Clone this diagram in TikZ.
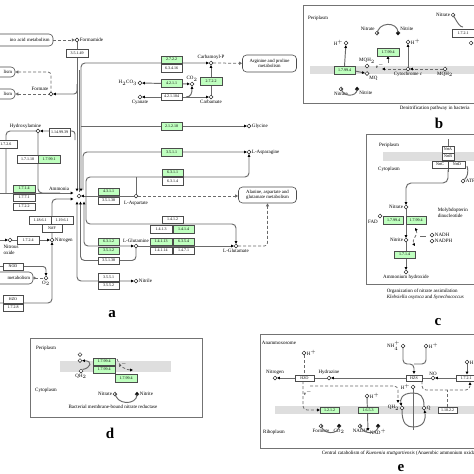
\documentclass[tikz,border=0pt]{standalone}
\usepackage{fontspec}
\setmainfont{Liberation Serif}
\usetikzlibrary{arrows.meta}
\definecolor{kgreen}{HTML}{BFFFBF}
\definecolor{lgray}{HTML}{6A6A6A}
\tikzset{
  ec/.style={draw=black!70, fill=white, line width=0.4pt, inner sep=0pt, minimum width=21.5pt, minimum height=7.5pt, font=\fontsize{4}{4}\selectfont},
  ecg/.style={ec, fill=kgreen},
  cpd/.style={circle, draw=black!85, fill=white, line width=0.5pt, inner sep=0pt, minimum size=3.8pt},
  lbl/.style={font=\fontsize{5}{5.5}\selectfont, inner sep=0.6pt},
  map/.style={draw=black!70, fill=white, rounded corners=4pt, line width=0.6pt, inner sep=1pt, align=center, font=\fontsize{4.8}{5.2}\selectfont},
  rx/.style={draw=lgray, line width=0.95pt},
  dsh/.style={draw=lgray, line width=0.75pt, dash pattern=on 3pt off 2pt},
  arr/.style={-{Triangle[length=2.8pt,width=2.6pt,color=black]}},
  dbl/.style={{Triangle[length=2.8pt,width=2.6pt,color=black]}-{Triangle[length=2.8pt,width=2.6pt,color=black]}},
  oarr/.style={-{Triangle[open,length=3pt,width=3pt]}},
  panel/.style={draw=black!55, line width=0.7pt},
  mem/.style={fill=black!13},
  letter/.style={font=\fontsize{15}{15}\selectfont\bfseries}
}
\begin{document}
\begin{tikzpicture}[x=1pt,y=-1pt]
\useasboundingbox (0,0) rectangle (474,474);
\clip (0,0) rectangle (474,474);
\fill[white] (0,0) rectangle (474,474);

% ---------- a: compounds
\node[cpd,label={[lbl]right:Formamide}] (formamide) at (77,40) {};
\node[cpd] (formate) at (51,94) {};
\node[lbl] at (40,88.5) {Formate};
\node[cpd,label={[lbl]left:H$_2$CO$_3$}] (hco) at (140,83) {};
\node[cpd,label={[lbl]below:Cyanate}] (cyanate) at (140,97) {};
\node[cpd,label={[lbl]above:CO$_2$}] (co2a) at (192,84) {};
\node[cpd,label={[lbl]below:Carbamate}] (carbamate) at (211,97) {};
\node[cpd,label={[lbl]above:Carbamoyl-P}] (carbp) at (211,63) {};
\node[cpd,label={[lbl]right:Glycine}] (gly) at (249,126) {};
\node[cpd,label={[lbl]right:L-Asparagine}] (asn) at (249,152) {};
\node[cpd] (hydroxyl) at (38,131) {};
\node[lbl] at (25.5,126) {Hydroxylamine};
\node[cpd] (ammonia) at (79,196) {};
\node[lbl] at (59,188.5) {Ammonia};
\node[cpd] (asp) at (136,196) {};
\node[lbl] at (136,203) {L-Aspartate};
\node[cpd] (gln) at (136,246) {};
\node[lbl] at (136,240.5) {L-Glutamine};
\node[cpd,label={[lbl]below:L-Glutamate}] (glu) at (236,246) {};
\node[cpd,label={[lbl]right:Nitrile}] (nitrile) at (136,281) {};
\node[cpd] (nno) at (10,240) {};
\node[lbl,align=left] at (11,250) {Nitrous\\oxide};
\node[cpd,label={[lbl]right:Nitrogen}] (nn) at (52,240) {};
\node[cpd,label={[lbl]below:O$_2$}] (oo) at (46,278) {};

% maps
\node[map,minimum width=63pt,minimum height=12pt,text width=56pt,align=right] (aamap) at (21.5,40) {ino acid metabolism};
\node[map,minimum width=26pt,minimum height=10pt,text width=20pt,align=right] (mapb) at (2,72) {lism};
\node[map,minimum width=26pt,minimum height=10pt,text width=20pt,align=right] (mapc) at (2,94) {lism};
\node[map,minimum width=54pt,minimum height=17pt] (argmap) at (269.5,63.5) {Arginine and proline\\metabolism};
\node[map,minimum width=58pt,minimum height=16pt] (alamap) at (267.5,195) {Alanine, aspartate and\\glutamate metabolism};
\node[map,minimum width=44pt,minimum height=12pt,text width=38pt,align=right] (mapd) at (11,278) {metabolism};

% a: reactions
\draw[rx,arr] (formamide) -- (77,191.5);
\draw[rx] (79,191.5) -- (79,70);
\draw[rx,dbl,rounded corners=4pt] (81,191.5) |- (carbp);
\draw[rx,arr,rounded corners=3pt] (77,84) |- (formate);
\draw[rx,arr] (81,126) -- (gly);
\draw[rx,arr,rounded corners=4pt] (83,190) |- (asn);
\draw[rx,arr,rounded corners=3pt] (75,140) |- (hydroxyl);
\draw[rx,dbl,rounded corners=4pt] (asn) |- (86,177) -- (86,224) -| (glu);
\draw[rx] (asp) -- (136,177);
\draw[rx,arr] (asp) -- (ammonia);
\draw[dsh,oarr] (asp.east) -- (asp -| alamap.west);
\draw[dsh,oarr,rounded corners=3pt] (glu) -| (alamap.south);
\draw[rx,dbl,rounded corners=4pt] (84,201.5) |- (gln);
\draw[rx,arr] (gln) -- (glu);
\draw[rx,arr,rounded corners=4pt] (gln) |- (80.5,260.5) -- (80.5,201.5);
\draw[rx,dbl,rounded corners=4pt] (77,201.5) |- (nitrile);
\draw[rx,rounded corners=4pt] (hydroxyl) |- (60,193);
\draw[rx,rounded corners=4pt] (hydroxyl) -| (6,193);
\draw[rx,arr] (0,193) -- (73.5,193);
\draw[rx,arr] (0,240) -- (nno);
\draw[rx,arr] (nno) -- (nn);
\draw[rx,arr,rounded corners=4pt] (nn) |- (73.5,199);
\draw[rx,arr,rounded corners=4pt] (0,303) -| (nn);
\draw[rx,arr,rounded corners=3pt] (0,266.5) -| (oo);
\draw[dsh,{Circle[open,length=2.5pt]}-] (mapd.east) -- (oo);
\draw[dsh,oarr] (aamap.east) -- (formamide);
\draw[dsh,{Triangle[open,length=3pt,width=3pt]}-,rounded corners=3pt] (mapb.east) -| (formate);
\draw[dsh,{Triangle[open,length=3pt,width=3pt]}-] (mapc.east) -- (formate);
\draw[dsh,oarr] (carbp) -- (argmap);
\draw[rx,dbl] (hco) -- (co2a);
\draw[rx,dbl] (cyanate) -- (carbamate);
\draw[rx,arr] (186,97) .. controls (191,97) and (192,93) .. (co2a);
\draw[rx,arr] (carbamate) -- (carbp);

% a: enzymes
\node[ec] at (77,53) {3.5.1.49};
\node[ecg] at (171.5,59.5) {2.7.2.2};
\node[ec] at (171.5,68) {6.3.4.16};
\node[ecg] at (171.5,83) {4.2.1.1};
\node[ec] at (171.5,96.5) {4.2.1.104};
\node[ecg] at (211,81) {2.7.2.2};
\node[ecg] at (171.5,126) {2.1.2.10};
\node[ecg] at (171.5,152) {3.5.1.1};
\node[ecg] at (172.5,172.5) {6.3.1.1};
\node[ec] at (172.5,181) {6.3.1.4};
\node[ec] at (59.5,132) {1.14.99.39};
\node[ec] at (6,144) {1.7.2.6};
\node[ec] at (27.5,159) {1.7.1.10};
\node[ecg] at (49,159) {1.7.99.1};
\node[ecg] at (24,188.5) {1.7.1.4};
\node[ec] at (24,197.5) {1.7.7.1};
\node[ec] at (24,206.5) {1.7.2.2};
\node[ecg] at (108.5,191.5) {4.3.1.1};
\node[ec] at (108.5,200.5) {3.5.1.38};
\node[ec] at (40,220) {1.18.6.1};
\node[ec] at (62,220) {1.19.6.1};
\node[ec,minimum width=20pt] at (52,228) {NifF};
\node[ec] at (28,240) {1.7.2.4};
\node[ec] at (172.5,219.5) {1.4.1.2};
\node[ec] at (161,229) {1.4.1.3};
\node[ecg] at (183.5,229) {1.4.1.4};
\node[ecg] at (108.5,241.5) {6.3.1.2};
\node[ecg] at (108.5,250.5) {3.5.1.2};
\node[ecg] at (161,241.5) {1.4.1.13};
\node[ecg] at (183.5,241.5) {6.3.5.4};
\node[ec] at (161,250.5) {1.4.1.14};
\node[ec] at (183.5,250.5) {1.4.7.1};
\node[ec] at (108.5,260.5) {3.5.1.38};
\node[ec] at (108.5,277) {3.5.5.1};
\node[ec] at (108.5,285.5) {3.5.5.2};
\node[ec,minimum width=20pt] at (13,266.5) {NOD};
\node[ec,minimum width=20pt] at (13,299) {HZO};
\node[ec,minimum width=20pt] at (13,307.5) {1.7.2.8};
\node[letter] at (112,314) {a};

% ---------- b
\draw[panel] (303,5) rectangle (480,103);
\fill[mem] (310,66) rectangle (480,74);
\node[lbl] at (318,18) {Periplasm};
\node[cpd,label={[lbl]left:H$^+$}] (hpb1) at (346,43) {};
\node[cpd,label={[lbl]above:MQH$_2$}] (mqhb) at (367,66) {};
\node[cpd,label={[lbl]below right:MQ}] (mqb) at (367,73.5) {};
\node[cpd,label={[lbl]below:Nitrate}] (nab1) at (341,89) {};
\node[cpd,label={[lbl]below right:Nitrite}] (nib1) at (357,89) {};
\node[cpd,label={[lbl]above left:Nitrate}] (nab2) at (377,33) {};
\node[cpd,label={[lbl]above right:Nitrite}] (nib2) at (398,33) {};
\node[cpd,label={[lbl]right:H$^+$}] (hpb2) at (408,42) {};
\node[cpd,label={[lbl]below:Cytochrome \textit{c}}] (cytc) at (408,69) {};
\node[cpd,label={[lbl]below:MQH$_2$}] (mqhb2) at (445,69) {};
\node[cpd,label={[lbl]left:Nitrate}] (nab3) at (453,15) {};
\node[cpd] (nob) at (471,43) {};
\draw[rx,arr] (344.5,66) -- (hpb1);
\draw[rx,arr] (355,71) -- (mqb);
\draw[rx,arr] (nab1.north) to[out=-90,in=-90,looseness=1.7] (nib1.north);
\draw[rx,arr] (nab2.south) to[out=90,in=90,looseness=1.7] (nib2.south);
\draw[dsh,arr] (mqhb2) -- (cytc);
\draw[dsh,arr] (cytc) -- (382,69);
\draw[rx,arr] (388,63) -- (388,56);
\draw[rx,arr] (cytc) -- (hpb2);
\draw[rx] (nab3.south) to[out=90,in=180] (463,27);
\node[ecg] at (344.5,70) {1.7.99.4};
\node[ecg] at (388,52) {1.7.99.4};
\node[ec] at (463,33) {1.7.2.1};
\node[lbl] at (380,66) {e$^-$};
\node[lbl,anchor=west] at (399,108) {Denitrification pathway in bacteria};
\node[letter] at (439,123) {b};

% ---------- c
\draw[panel] (366,134) rectangle (480,284);
\fill[mem] (383,152) rectangle (480,161);
\node[lbl] at (389,145) {Periplasm};
\node[lbl] at (389,169) {Cytoplasm};
\node[cpd,label={[lbl]left:Nitrate}] (nac) at (406,207) {};
\node[cpd] (fad) at (380,216) {};
\node[lbl] at (373,222) {FAD};
\node[cpd,label={[lbl]left:Nitrite}] (nic) at (406,240) {};
\node[cpd,label={[lbl]below:Ammonium hydroxide}] (nhoh) at (406,272) {};
\node[cpd,label={[lbl]right:NADH}] (nadhc) at (432,235) {};
\node[cpd,label={[lbl]right:NADPH}] (nadphc) at (432,241) {};
\node[cpd,label={[lbl]right:ATP}] (atp) at (463,181) {};
\draw[rx] (448,139) -- (448,172);
\draw[rx,arr,rounded corners=5pt] (448,170) |- (406,183) -- (nac);
\draw[rx] (467,166) .. controls (469,173) and (467,177) .. (atp);
\draw[rx,arr] (nac) -- (nic);
\draw[rx,arr] (nic) -- (nhoh);
\draw[dsh,dbl] (415,228) .. controls (419,234) and (411,240) .. (415,246);
\draw[rx,line width=0.5pt] (420,236.5) -- (426,236.5);
\node[ec,minimum width=12pt] at (448,149.5) {NrtA};
\node[ec,minimum width=12pt] at (448,156.5) {NrtB};
\node[ec,minimum width=16pt] at (440,164.5) {NrtC};
\node[ec,minimum width=17pt] at (457,164.5) {NrtD};
\node[ecg,minimum width=20pt] at (393.5,220) {1.7.99.4};
\node[ecg,minimum width=20pt] at (416,220) {1.7.99.4};
\node[ecg] at (404.5,254.5) {1.7.1.4};
\node[lbl,align=left,anchor=west] at (437,213) {Molybdopterin\\dinucleotide};
\node[lbl,align=left,anchor=west] at (386,294.5) {Organization of nitrate assimilation\\\textit{Klebsiella oxytoca} and \textit{Synechococcus}};
\node[letter] at (438,322) {c};

% ---------- d
\draw[panel] (30,338) rectangle (202,417);
\fill[mem] (60,361) rectangle (171,372);
\node[lbl] at (46,348) {Periplasm};
\node[lbl] at (46,390) {Cytoplasm};
\node[cpd] (qd1) at (80,354.5) {};
\node[cpd] (qd2) at (80,360.5) {};
\node[cpd,label={[lbl]below:QH$_2$}] (qhd) at (81,371) {};
\node[cpd,label={[lbl]left:Nitrate}] (nad) at (115,394) {};
\node[cpd,label={[lbl]right:Nitrite}] (nid) at (137,394) {};
\draw[rx,arr] (qhd.north east) .. controls (91,368) and (93,361) .. (qd2);
\draw[dsh,arr] (117,359) .. controls (119,366) and (125,370) .. (133,370);
\draw[rx,arr] (nad.north) to[out=-90,in=-90,looseness=1.6] (nid.north);
\node[ecg] at (104,361.5) {1.7.99.4};
\node[ecg] at (104,369.5) {1.7.99.4};
\node[ecg] at (126,378) {1.7.99.4};
\node[lbl] at (123,364.5) {e$^-$};
\node[lbl] at (113,407) {Bacterial membrane-bound nitrate reductase};
\node[letter] at (110,433) {d};

% ---------- e
\draw[panel] (260,334) rectangle (480,448);
\fill[mem] (275,406) rectangle (480,414);
\node[lbl] at (279,343) {Anammoxosome};
\node[lbl] at (274,432) {Riboplasm};
\node[cpd,label={[lbl]right:H$^+$}] (hpe1) at (304,353) {};
\node[cpd,label={[lbl]above:Nitrogen}] (nne) at (275,378) {};
\node[cpd,label={[lbl]above:Hydrazine}] (hydz) at (329,378) {};
\node[cpd,label={[lbl]left:NH$_4^+$}] (nhe) at (403,346) {};
\node[cpd,label={[lbl]right:H$^+$}] (hpe2) at (426,346) {};
\node[cpd,label={[lbl]above:NO}] (noe) at (433,378) {};
\node[cpd,label={[lbl]right:H$^+$}] (hpe3) at (467,362) {};
\node[cpd,label={[lbl]left:H$^+$}] (hpe4) at (413,387) {};
\node[cpd,label={[lbl]left:QH$_2$}] (qhe) at (402,408) {};
\node[cpd,label={[lbl]right:Q}] (qe) at (424,408) {};
\node[cpd,label={[lbl]below:Formate}] (fme) at (321,426) {};
\node[cpd,label={[lbl]below:CO$_2$}] (coe) at (339,426) {};
\node[cpd,label={[lbl]right:H$^+$}] (hpe5) at (367,396) {};
\node[cpd,label={[lbl]below:NADH}] (nadhe) at (360,426) {};
\node[cpd,label={[lbl]below:NAD$^+$}] (nade) at (378,426) {};
\draw[rx,arr] (hydz) -- (nne);
\draw[rx,arr] (414,378) -- (hydz);
\draw[rx] (noe) -- (414,378);
\draw[rx,arr] (465,378) -- (noe);
\draw[dsh] (hpe1) -- (304,378);
\draw[rx,arr,rounded corners=4pt] (nhe) |- (414,364) -- (414,374);
\draw[rx,rounded corners=4pt] (hpe2) |- (414,364);
\draw[rx,arr] (hpe3) -- (467,374.5);
\draw[dsh,arr,rounded corners=4pt] (303,381) |- (320,410);
\draw[dsh,arr,rounded corners=4pt] (310,386) -| (398,403);
\draw[dsh,arr,rounded corners=4pt] (422,381) |- (470,390) -- (470,382);
\draw[dsh] (447.5,406.5) -- (447.5,390);
\draw[rx] (hpe4) -- (413,430);
\draw[rx,arr] (413,393) .. controls (401,393) and (400,400) .. (qhe);
\draw[rx] (qhe) .. controls (402,424) and (407,427) .. (413,427);
\draw[rx,arr] (413,427) .. controls (425,427) and (426,418) .. (qe);
\draw[rx] (qe) .. controls (424,396) and (420,393) .. (413,393);
\draw[rx,arr] (fme.north) to[out=-90,in=-90,looseness=1.6] (coe.north);
\draw[rx,arr] (nadhe.north) to[out=-90,in=-90,looseness=1.6] (nade.north);
\draw[rx,arr] (hpe5) -- (368,431);
\node[ec,minimum width=19pt,minimum height=6.5pt] at (304.5,378) {HZO};
\node[ec,minimum width=16pt,minimum height=6.5pt] at (414,378) {HZS};
\node[ec,minimum width=19pt,minimum height=6.5pt] at (466,378) {1.7.2.1};
\node[ecg,minimum width=19pt,minimum height=6.5pt] at (329.5,410) {1.2.1.2};
\node[ecg,minimum width=20pt,minimum height=6.5pt] at (368,410) {1.6.5.3};
\node[ec,minimum width=19pt,minimum height=6.5pt] at (447.5,410) {1.10.2.2};
\node[lbl] at (308,393) {e$^-$};
\node[lbl,anchor=west] at (321,453) {Central catabolism of \textit{Kuenenia stuttgartiensis} (Anaerobic ammonium oxidation)};
\node[letter] at (401,468) {e};
\end{tikzpicture}
\end{document}
